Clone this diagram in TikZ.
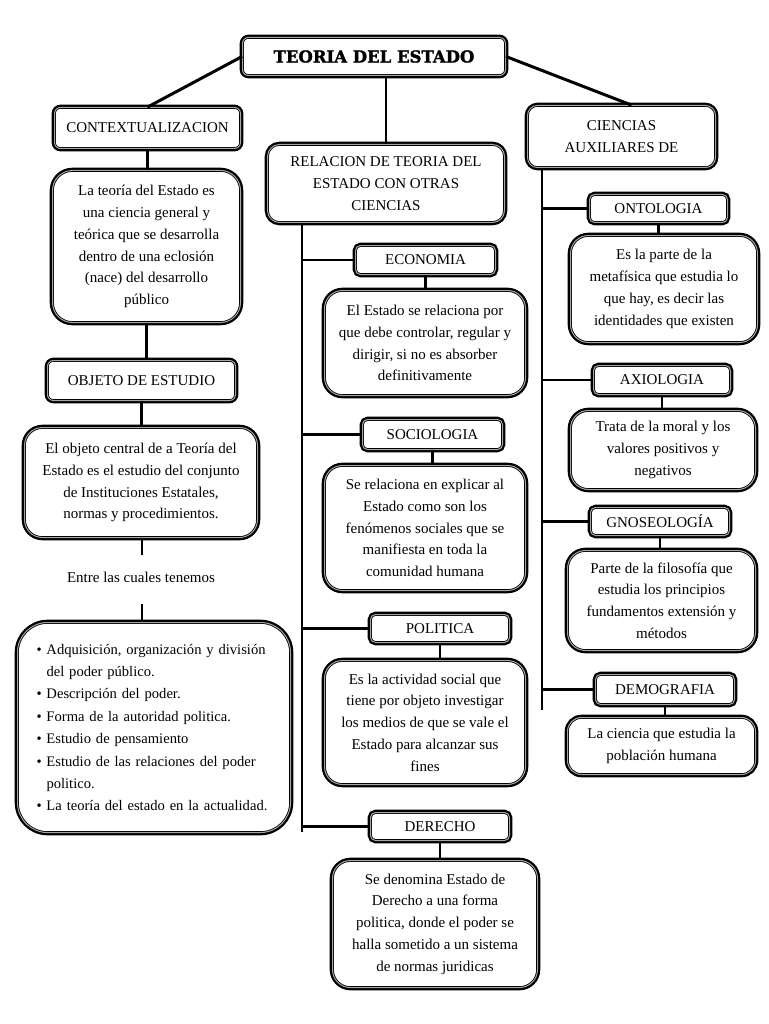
\documentclass[tikz,border=0pt]{standalone}
\usepackage{fontspec}
\setmainfont{Liberation Serif}
\newfontfamily\titlefont{DejaVu Serif}[BoldFeatures={FakeBold=1.6}]
\begin{document}
\begin{tikzpicture}[x=1pt,y=-1pt,
  box/.style={draw=black, line width=0.8pt, double=black!35, double distance=1pt,
    fill=white, preaction={draw=black, line width=5.6pt}, rounded corners=#1,
    inner sep=0pt, align=center, font=\fontsize{15}{21.8}\selectfont},
  box/.default=5pt,
  conn/.style={line width=2.6pt}]
\useasboundingbox (0,0) rectangle (768,1024);

% top
\node[box=6pt, minimum width=263, minimum height=38] (title) at (374,56.5)
  {\titlefont\bfseries\fontsize{16.5}{18}\selectfont TEORIA DEL ESTADO};

% left column
\node[box=6pt, minimum width=186, minimum height=41] (ctx) at (147.5,128) {CONTEXTUALIZACION};
\node[box=20pt, minimum width=188, minimum height=152] (t1) at (146.5,246.5)
  {La teoría del Estado es\\una ciencia general y\\teórica que se desarrolla\\dentro de una eclosión\\(nace) del desarrollo\\público};
\node[box=6pt, minimum width=188, minimum height=40] (obj) at (141.5,380.5) {OBJETO DE ESTUDIO};
\node[box=18pt, minimum width=233, minimum height=110] (t2) at (141,482.5)
  {El objeto central de a Teoría del\\Estado es el estudio del conjunto\\de Instituciones Estatales,\\normas y procedimientos.};
\node[font=\fontsize{15}{18}\selectfont, inner sep=0pt] (entre) at (141,577) {Entre las cuales tenemos};
\node[box=30pt, minimum width=273, minimum height=210, text width=235, align=left,
  font=\fontsize{14.6}{22.4}\selectfont] (bul) at (154,727.5)
  {\makebox[10pt][l]{\textbullet}\makebox[223pt][s]{Adquisición, organización y división}\\
   \hspace*{10pt}del poder público.\\
   \makebox[10pt][l]{\textbullet}Descripción del poder.\\
   \makebox[10pt][l]{\textbullet}Forma de la autoridad politica.\\
   \makebox[10pt][l]{\textbullet}Estudio de pensamiento\\
   \makebox[10pt][l]{\textbullet}\makebox[223pt][s]{Estudio de las relaciones del poder}\\
   \hspace*{10pt}politico.\\
   \makebox[10pt][l]{\textbullet}La teoría del estado en la actualidad.};

% middle column
\node[box=12pt, minimum width=237, minimum height=78] (rel) at (386,183.5)
  {RELACION DE TEORIA DEL\\ESTADO CON OTRAS\\CIENCIAS};
\node[box, minimum width=140, minimum height=29] (econ) at (425.5,260) {ECONOMIA};
\node[box=18pt, minimum width=201, minimum height=105] (econt) at (425,343)
  {El Estado se relaciona por\\que debe controlar, regular y\\dirigir, si no es absorber\\definitivamente};
\node[box, minimum width=140, minimum height=30] (soc) at (432.5,434.5) {SOCIOLOGIA};
\node[box=18pt, minimum width=201, minimum height=125] (soct) at (425,528)
  {Se relaciona en explicar al\\Estado como son los\\fenómenos sociales que se\\manifiesta en toda la\\comunidad humana};
\node[box, minimum width=139, minimum height=28] (pol) at (440,628.5) {POLITICA};
\node[box=18pt, minimum width=201, minimum height=124] (polt) at (425,722.5)
  {Es la actividad social que\\tiene por objeto investigar\\los medios de que se vale el\\Estado para alcanzar sus\\fines};
\node[box, minimum width=139, minimum height=28] (der) at (440,826.5) {DERECHO};
\node[box=18pt, minimum width=205, minimum height=127] (dert) at (435,924)
  {Se denomina Estado de\\Derecho a una forma\\politica, donde el poder se\\halla sometido a un sistema\\de normas juridicas};

% right column
\node[box=10pt, minimum width=188, minimum height=62] (cien) at (621.5,136.5)
  {CIENCIAS\\AUXILIARES DE};
\node[box, minimum width=138, minimum height=28] (ont) at (658.5,208.5) {ONTOLOGIA};
\node[box=18pt, minimum width=187, minimum height=107] (ontt) at (664,289)
  {Es la parte de la\\metafísica que estudia lo\\que hay, es decir las\\identidades que existen};
\node[box, minimum width=137, minimum height=29] (axi) at (662,380) {AXIOLOGIA};
\node[box=18pt, minimum width=185, minimum height=79] (axit) at (663,450)
  {\rule{0pt}{8pt}Trata de la moral y los\\valores positivos y\\negativos};
\node[box, minimum width=139, minimum height=28] (gno) at (660,521.5) {GNOSEOLOGÍA};
\node[box=18pt, minimum width=188, minimum height=100] (gnot) at (661.5,600.5)
  {Parte de la filosofía que\\estudia los principios\\fundamentos extensión y\\métodos};
\node[box, minimum width=139, minimum height=30] (dem) at (665,689.5) {DEMOGRAFIA};
\node[box=14pt, minimum width=188, minimum height=57] (demt) at (661.5,746)
  {La ciencia que estudia la\\población humana};

% coordinates
\coordinate (stubA) at (142,555);
\coordinate (stubB) at (142,604);
\coordinate (mbot) at (302,832);
\coordinate (rbot) at (542,710);

% connectors
\draw[conn, line width=3pt] (title.west) -- (ctx.north);
\draw[conn, line width=3pt] (title.east) -- ([xshift=10pt]cien.north);
\draw[conn] (rel.north) -- (rel.north |- title.south);
\draw[conn] (ctx.south) -- (ctx.south |- t1.north);
\draw[conn] (t1.south) -- (t1.south |- obj.north);
\draw[conn] (obj.south) -- (obj.south |- t2.north);
\draw[conn] (t2.south -| stubA) -- (stubA);
\draw[conn] (stubB) -- (stubB |- bul.north);

\draw[conn] (rel.south -| mbot) -- (mbot);
\draw[conn] (econ.west) -- (econ.west -| mbot);
\draw[conn] (soc.west) -- (soc.west -| mbot);
\draw[conn] (pol.west) -- (pol.west -| mbot);
\draw[conn] (der.west) -- (der.west -| mbot);
\draw[conn] (econ.south) -- (econ.south |- econt.north);
\draw[conn] (soc.south) -- (soc.south |- soct.north);
\draw[conn] (pol.south) -- (pol.south |- polt.north);
\draw[conn] (der.south) -- (der.south |- dert.north);

\draw[conn] (cien.south -| rbot) -- (rbot);
\draw[conn] (ont.west) -- (ont.west -| rbot);
\draw[conn] (axi.west) -- (axi.west -| rbot);
\draw[conn] (gno.west) -- (gno.west -| rbot);
\draw[conn] (dem.west) -- (dem.west -| rbot);
\draw[conn] (ont.south) -- (ont.south |- ontt.north);
\draw[conn] (axi.south) -- (axi.south |- axit.north);
\draw[conn] (gno.south) -- (gno.south |- gnot.north);
\draw[conn] (dem.south) -- (dem.south |- demt.north);
\end{tikzpicture}
\end{document}
